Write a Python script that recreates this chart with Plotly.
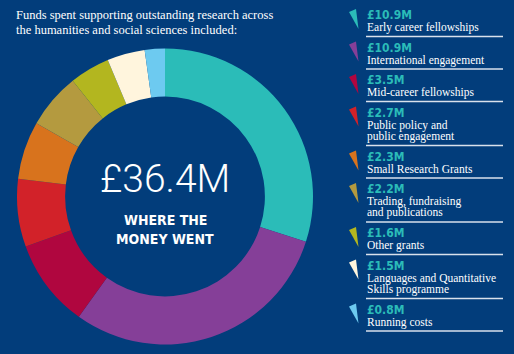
import plotly.graph_objects as go

# ---- data ----
categories = [
    "Early career fellowships",
    "International engagement",
    "Mid-career fellowships",
    "Public policy and<br>public engagement",
    "Small Research Grants",
    "Trading, fundraising<br>and publications",
    "Other grants",
    "Languages and Quantitative<br>Skills programme",
    "Running costs",
]
values_m = [10.9, 10.9, 3.5, 2.7, 2.3, 2.2, 1.6, 1.5, 0.8]
amount_labels = ["£10.9M", "£10.9M", "£3.5M", "£2.7M", "£2.3M", "£2.2M", "£1.6M", "£1.5M", "£0.8M"]
total_label = "£36.4M"
title_lines = ["Funds spent supporting outstanding research across",
               "the humanities and social sciences included:"]
center_lines = ["WHERE THE", "MONEY WENT"]

# ---- styles ----
colors = ["#2bbcb8", "#853f98", "#b0063f", "#d22229", "#d8731d",
          "#b49a3f", "#b3b61f", "#fff5dd", "#6dcaf0"]
BG = "#023d7b"
W, H = 514, 354
serif = "Liberation Serif, DejaVu Serif, serif"
narrow = "DejaVu Sans Condensed, DejaVu Sans, sans-serif"


def px(x):
    return x / W


def py(y):
    return 1 - y / H


fig = go.Figure()
cx, cy, r = 165, 196.5, 148
fig.add_trace(go.Pie(
    values=values_m,
    labels=[c.replace("<br>", " ") for c in categories],
    marker=dict(colors=colors, line=dict(width=0)),
    hole=0.675,
    sort=False,
    direction="clockwise",
    rotation=0,
    textinfo="none",
    hoverinfo="skip",
    showlegend=False,
    domain=dict(x=[px(cx - r), px(cx + r)], y=[py(cy + r), py(cy - r)]),
))

annotations = []
shapes = []

# title
for i, t in enumerate(title_lines):
    annotations.append(dict(x=px(14), y=py(15 + 15 * i), xref="paper", yref="paper",
                            text=t, showarrow=False, xanchor="left", yanchor="middle",
                            font=dict(family=serif, size=12.5, color="#ffffff")))

# centre text
annotations.append(dict(x=px(cx), y=py(179), xref="paper", yref="paper", text=total_label,
                        showarrow=False, xanchor="center", yanchor="middle",
                        font=dict(family="Roboto, sans-serif", size=39, color="#ffffff", weight=300)))
for i, t in enumerate(center_lines):
    annotations.append(dict(x=px(cx), y=py(220 + 19 * i), xref="paper", yref="paper", text=t,
                            showarrow=False, xanchor="center", yanchor="middle",
                            font=dict(family=narrow, size=14, color="#ffffff", weight="bold")))

# legend
ay = 15
tx = 366
for col, amt, cat in zip(colors, amount_labels, categories):
    lines = cat.split("<br>")
    annotations.append(dict(x=px(tx - 1), y=py(ay), xref="paper", yref="paper", text=amt,
                            showarrow=False, xanchor="left", yanchor="middle",
                            font=dict(family=narrow, size=12, color="#2bbcb8", weight="bold")))
    for j, ln in enumerate(lines):
        annotations.append(dict(x=px(tx - 1), y=py(ay + 12.5 + 11.5 * j), xref="paper", yref="paper",
                                text=ln, showarrow=False, xanchor="left", yanchor="middle",
                                font=dict(family=serif, size=11.5, color="#ffffff")))
    # wedge icon
    p = [(349, ay - 3), (356, ay - 6), (358.5, ay + 14)]
    path = "M {} {} L {} {} L {} {} Z".format(*(v for pt in p for v in (px(pt[0]), py(pt[1]))))
    shapes.append(dict(type="path", xref="paper", yref="paper", path=path,
                       fillcolor=col, line=dict(width=0)))
    ly = ay + 12.5 + 11.5 * (len(lines) - 1) + 9
    shapes.append(dict(type="line", xref="paper", yref="paper", x0=px(tx), x1=px(503),
                       y0=py(ly), y1=py(ly), line=dict(color="#d9e1ec", width=1.5)))
    ay = ly + 11

fig.update_layout(
    width=W, height=H,
    margin=dict(l=0, r=0, t=0, b=0),
    paper_bgcolor=BG, plot_bgcolor=BG,
    annotations=annotations, shapes=shapes,
    showlegend=False,
)
fig.write_html("out.html")
